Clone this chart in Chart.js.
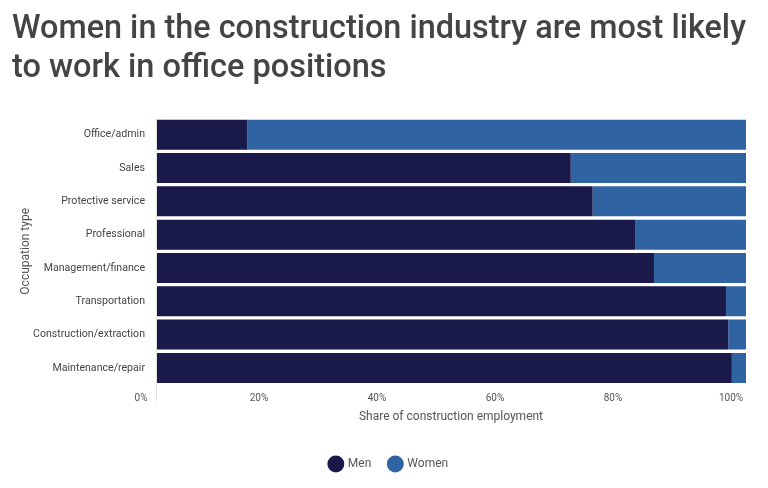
<!DOCTYPE html>
<html>
<head>
<meta charset="utf-8">
<script src="https://cdn.jsdelivr.net/npm/chart.js@4"></script>
<style>
  html, body { margin: 0; padding: 0; background: #fff; }
  #wrap { width: 768px; height: 488px; }
</style>
</head>
<body>
<div id="wrap"><canvas id="myChart" width="768" height="488"></canvas></div>
<script>
// categories and shares (%)
var occupations = ["Office/admin", "Sales", "Protective service", "Professional",
    "Management/finance", "Transportation", "Construction/extraction", "Maintenance/repair"];
var men = [15.5, 70.3, 74.0, 81.2, 84.4, 96.6, 97.0, 97.6];
var women = [84.5, 29.7, 26.0, 18.8, 15.6, 3.4, 3.0, 2.4];
var xTicks = [0, 20, 40, 60, 80, 100];

// faint axis line at 0 running a bit below the bars, legend nudged right
var extras = {
    id: "extras",
    afterLayout: function(chart) {
        chart.legend.left += 10;
        chart.legend.right += 10;
    },
    afterDraw: function(chart) {
        var x = chart.scales.x.getPixelForValue(0);
        var ctx = chart.ctx;
        ctx.save();
        ctx.strokeStyle = "#e3e3e3";
        ctx.lineWidth = 1;
        ctx.beginPath();
        ctx.moveTo(Math.round(x) + 0.5, chart.chartArea.top);
        ctx.lineTo(Math.round(x) + 0.5, chart.chartArea.bottom + 17);
        ctx.stroke();
        ctx.restore();
    }
};

var ctx = document.getElementById("myChart").getContext("2d");
var myChart = new Chart(ctx, {
    type: "bar",
    data: {
        labels: occupations,
        datasets: [
            { label: "Men", data: men, backgroundColor: "#19194a", borderWidth: 0 },
            { label: "Women", data: women, backgroundColor: "#2f63a2", borderWidth: 0 }
        ]
    },
    options: {
        indexAxis: "y",
        responsive: false,
        animation: false,
        barPercentage: 0.9,
        categoryPercentage: 1.0,
        layout: { padding: { left: 12, right: 22, top: 0, bottom: 8 } },
        scales: {
            x: {
                stacked: true,
                min: 0,
                max: 100,
                grid: { display: false, drawTicks: false },
                border: { display: false },
                afterBuildTicks: function(scale) {
                    scale.ticks = xTicks.map(function(v) { return { value: v }; });
                },
                ticks: {
                    padding: 8,
                    labelOffset: -15,
                    color: "#555",
                    font: { family: "Roboto", size: 10 },
                    callback: function(v) { return v + "%"; }
                },
                title: {
                    display: true,
                    text: "Share of construction employment",
                    color: "#555",
                    font: { family: "Roboto", size: 12 },
                    padding: { top: -3, bottom: 16 }
                }
            },
            y: {
                stacked: true,
                grid: { display: false, drawTicks: false },
                border: { display: false },
                afterFit: function(scale) { scale.width = 144; },
                ticks: {
                    padding: 11,
                    color: "#444",
                    font: { family: "Roboto", size: 10.6 }
                },
                title: {
                    display: true,
                    text: "Occupation type",
                    color: "#555",
                    font: { family: "Roboto", size: 12 },
                    padding: { top: 7, bottom: 0 }
                }
            }
        },
        plugins: {
            title: {
                display: true,
                text: ["Women in the construction industry are most likely", "to work in office positions"],
                align: "start",
                color: "#444",
                font: { family: "Roboto", size: 32.5, weight: "500", lineHeight: 1.2 },
                padding: { top: 10, bottom: 30 }
            },
            legend: {
                position: "bottom",
                labels: {
                    usePointStyle: true,
                    pointStyle: "circle",
                    boxWidth: 12,
                    boxHeight: 12,
                    padding: 18,
                    color: "#555",
                    font: { family: "Roboto", size: 12 }
                }
            },
            tooltip: { enabled: false }
        }
    },
    plugins: [extras]
});
</script>
</body>
</html>
